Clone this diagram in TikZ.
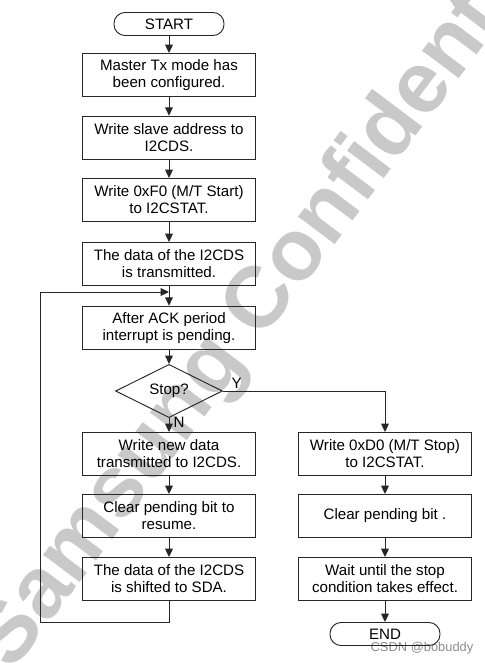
\documentclass[tikz,border=0pt]{standalone}
\usepackage{fontspec}
\setmainfont{Liberation Sans}
\usepackage{tikz}
\usetikzlibrary{shapes.geometric,arrows.meta,calc}
\newcommand{\flowfont}{\fontsize{12.9}{14.6}\selectfont}

\begin{document}
\begin{tikzpicture}[
  box/.style={rectangle, draw=black!85, line width=0.8pt, minimum width=5.19cm,
              minimum height=1.29cm, font=\flowfont, align=center},
  term/.style={rectangle, draw=black!85, line width=0.8pt, rounded corners=0.33cm,
               minimum width=3.3cm, minimum height=0.69cm, inner sep=1pt, font=\flowfont},
  decision/.style={diamond, draw=black!85, line width=0.8pt, minimum width=3.21cm,
                   minimum height=1.26cm, inner sep=0pt, font=\flowfont},
  tag/.style={font=\flowfont, inner sep=2pt},
  wmark/.style={font=\fontsize{74}{76}\selectfont\bfseries, text=black!21},
  arrow/.style={-{Triangle[length=0.25cm,width=0.23cm]}, line width=0.8pt, draw=black!85}
]
\useasboundingbox (0,0) rectangle (14.55,-19.89);

% Watermark behind everything
\node[wmark, rotate=53] (wm) at (8.1,-8.8) {Samsung Confidential};
\node[font=\fontsize{11}{12}\selectfont, text=black!45] (csdn) at (12.66,-19.44) {CSDN @bobuddy};

% Main column
\node[term] (start) at (5.07,-0.72) {START};
\node[box] (config) at (5.07,-2.25) {Master Tx mode has\\been configured.};
\node[box] (slave) at (5.07,-4.13) {Write slave address to\\I2CDS.};
\node[box] (mtstart) at (5.07,-6.0) {Write 0xF0 (M/T Start)\\to I2CSTAT.};
\node[box] (txdata) at (5.07,-7.92) {The data of the I2CDS\\is transmitted.};
\node[box] (ack) at (5.07,-9.83) {After ACK period\\interrupt is pending.};
\node[decision] (stop) at (5.07,-11.73) {Stop?};

% N branch
\node[box] (newdata) at (5.07,-13.62) {Write new data\\transmitted to I2CDS.};
\node[box] (clrresume) at (5.07,-15.48) {Clear pending bit to\\resume.};
\node[box] (shift) at (5.07,-17.37) {The data of the I2CDS\\is shifted to SDA.};

% Y branch
\node[box] (mtstop) at (11.55,-13.62) {Write 0xD0 (M/T Stop)\\to I2CSTAT.};
\node[box] (clrbit) at (11.55,-15.48) {Clear pending bit .};
\node[box] (wait) at (11.55,-17.37) {Wait until the stop\\condition takes effect.};
\node[term] (finish) at (11.55,-19.02) {END};

% Loop points
\coordinate (loopin) at (5.07,-8.76);
\coordinate (loopcorner) at (1.2,-18.66);

% Arrows - main chain
\draw[arrow] (start) -- (config);
\draw[arrow] (config) -- (slave);
\draw[arrow] (slave) -- (mtstart);
\draw[arrow] (mtstart) -- (txdata);
\draw[arrow] (txdata) -- (ack);
\draw[arrow] (ack) -- (stop);
\draw[arrow] (stop) -- node[tag, right, pos=0.33, xshift=1.5pt] {N} (newdata);
\draw[arrow] (newdata) -- (clrresume);
\draw[arrow] (clrresume) -- (shift);
\draw[arrow] (shift.south) |- (loopcorner) |- (loopin);

% Arrows - stop branch
\draw[arrow] (stop.east) -| node[tag, pos=0.042, above] {Y} (mtstop.north);
\draw[arrow] (mtstop) -- (clrbit);
\draw[arrow] (clrbit) -- (wait);
\draw[arrow] (wait) -- (finish);

\end{tikzpicture}
\end{document}
